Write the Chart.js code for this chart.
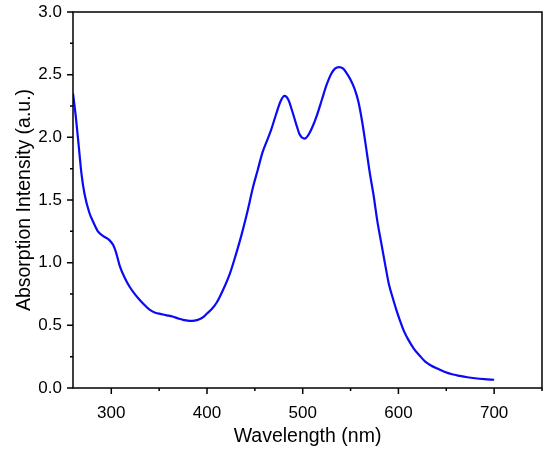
<!DOCTYPE html>
<html>
<head>
<meta charset="utf-8">
<script src="https://cdn.jsdelivr.net/npm/chart.js@4"></script>
<style>
  html, body { margin: 0; padding: 0; background: #fff; }
  #wrap { width: 550px; height: 453px; }
</style>
</head>
<body>
<div id="wrap"><canvas id="chart"></canvas></div>
<script>
// wavelength (nm) and absorption values
const wavelengths = [260, 263, 266, 269, 272, 277, 282, 286, 292, 298, 302, 305, 309, 314, 319, 325, 330, 335, 340, 346,
  352, 358, 364, 370, 376, 382, 387, 392, 396, 400, 405, 410, 416, 424, 430, 436, 442, 448, 453, 458,
  463, 467, 472, 477, 481, 485, 489, 493, 497, 502, 506, 510, 515, 520, 525, 530, 534, 538, 542, 546,
  550, 554, 558, 562, 566, 570, 574, 578, 582, 586, 590, 594, 598, 602, 606, 610, 616, 622, 628, 634,
  640, 648, 656, 664, 672, 680, 690, 700];
const absorption = [2.35, 2.16, 1.93, 1.70, 1.55, 1.40, 1.31, 1.25, 1.21, 1.18, 1.14, 1.08, 0.97, 0.88, 0.81, 0.745, 0.70, 0.66, 0.625, 0.60,
  0.59, 0.58, 0.57, 0.555, 0.542, 0.535, 0.537, 0.548, 0.565, 0.595, 0.63, 0.68, 0.77, 0.915, 1.06, 1.22, 1.40, 1.60, 1.74, 1.88,
  1.98, 2.06, 2.18, 2.29, 2.33, 2.30, 2.21, 2.11, 2.02, 1.99, 2.02, 2.08, 2.18, 2.30, 2.42, 2.51, 2.55, 2.56, 2.55, 2.51,
  2.46, 2.39, 2.29, 2.13, 1.93, 1.72, 1.54, 1.33, 1.16, 0.99, 0.83, 0.72, 0.62, 0.53, 0.45, 0.39, 0.315, 0.26, 0.21, 0.18,
  0.157, 0.13, 0.11, 0.097, 0.086, 0.078, 0.071, 0.066];

const xTicks = [300, 350, 400, 450, 500, 550, 600, 650, 700, 750];
const yTicks = [0, 0.25, 0.5, 0.75, 1, 1.25, 1.5, 1.75, 2, 2.25, 2.5, 2.75, 3];

const fontFamily = '"Liberation Sans", Arial, sans-serif';

// frame + outward major/minor tick marks
const framePlugin = {
  id: 'frame',
  afterDraw(chart) {
    const { ctx, chartArea: a, scales } = chart;
    ctx.save();
    ctx.strokeStyle = '#000';
    ctx.lineWidth = 1.5;
    ctx.strokeRect(a.left, a.top, a.right - a.left, a.bottom - a.top);
    ctx.beginPath();
    scales.x.ticks.forEach((t) => {
      const px = scales.x.getPixelForValue(t.value);
      const len = t.value % 100 === 0 ? 6 : 3;
      ctx.moveTo(px, a.bottom);
      ctx.lineTo(px, a.bottom + len);
    });
    scales.y.ticks.forEach((t) => {
      const py = scales.y.getPixelForValue(t.value);
      const len = t.value % 0.5 === 0 ? 6 : 3;
      ctx.moveTo(a.left, py);
      ctx.lineTo(a.left - len, py);
    });
    ctx.stroke();
    ctx.restore();
  }
};

new Chart(document.getElementById('chart'), {
  type: 'line',
  data: {
    datasets: [{
      data: wavelengths.map((w, i) => ({ x: w, y: absorption[i] })),
      borderColor: '#0a0af5',
      borderWidth: 2.2,
      pointRadius: 0,
      cubicInterpolationMode: 'monotone',
      fill: false
    }]
  },
  options: {
    responsive: true,
    maintainAspectRatio: false,
    animation: false,
    layout: { padding: { top: 12, right: 8, left: 0, bottom: 0 } },
    plugins: { legend: { display: false }, tooltip: { enabled: false } },
    scales: {
      x: {
        type: 'linear',
        min: 260,
        max: 750,
        afterBuildTicks: (s) => { s.ticks = xTicks.map((v) => ({ value: v })); },
        afterFit: (s) => { s.height = 65; s.paddingLeft = 0; s.paddingRight = 0; },
        grid: { display: false },
        border: { display: false },
        ticks: {
          padding: 7,
          maxRotation: 0,
          autoSkip: false,
          color: '#000',
          font: { family: fontFamily, size: 17 },
          callback: (v) => (v % 100 === 0 ? String(v) : '')
        },
        title: {
          display: true,
          text: 'Wavelength (nm)',
          color: '#000',
          font: { family: fontFamily, size: 19.5 },
          padding: { top: 0, bottom: 5 }
        }
      },
      y: {
        min: 0,
        max: 3,
        afterBuildTicks: (s) => { s.ticks = yTicks.map((v) => ({ value: v })); },
        afterFit: (s) => { s.width = 73; s.paddingTop = 0; s.paddingBottom = 0; },
        grid: { display: false },
        border: { display: false },
        ticks: {
          padding: 3,
          autoSkip: false,
          color: '#000',
          font: { family: fontFamily, size: 17 },
          callback: (v) => (v % 0.5 === 0 ? v.toFixed(1) : '')
        },
        title: {
          display: true,
          text: 'Absorption Intensity (a.u.)',
          color: '#000',
          font: { family: fontFamily, size: 19.5 },
          padding: { top: 13, bottom: 0 }
        }
      }
    }
  },
  plugins: [framePlugin]
});
</script>
</body>
</html>
